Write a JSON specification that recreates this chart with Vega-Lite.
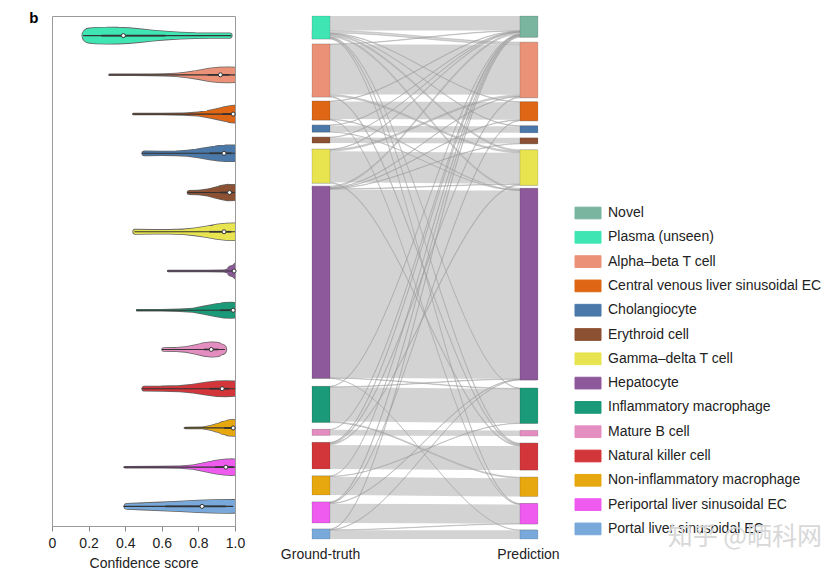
{
  "$schema": "https://vega.github.io/schema/vega-lite/v6.json",
  "padding": {"left": 28, "top": 9, "right": 0, "bottom": 0},
  "background": "white",
  "title": {"text": "知乎 @晒科网", "orient": "bottom", "anchor": "end", "offset": -46, "color": "#d8d8d8", "fontSize": 25, "font": "Noto Sans CJK SC", "fontWeight": "normal"},
  "config": {
    "font": "Liberation Sans",
    "view": {"stroke": "#9a9a9a"},
    "axis": {"labelColor": "#222", "titleColor": "#222", "labelFontSize": 14, "titleFontSize": 14, "titleFontWeight": "normal", "grid": false, "labelOverlap": false},
    "axisX": {"labelOverlap": false, "labelSeparation": 0, "labelFlush": false}
  },
  "datasets": {
    "order": [
      {"cell": "Plasma (unseen)", "rank": -1},
      {"cell": "Novel", "rank": 0},
      {"cell": "Alpha–beta T cell", "rank": 1},
      {"cell": "Central venous liver sinusoidal EC", "rank": 2},
      {"cell": "Cholangiocyte", "rank": 3},
      {"cell": "Erythroid cell", "rank": 4},
      {"cell": "Gamma–delta T cell", "rank": 5},
      {"cell": "Hepatocyte", "rank": 6},
      {"cell": "Inflammatory macrophage", "rank": 7},
      {"cell": "Mature B cell", "rank": 8},
      {"cell": "Natural killer cell", "rank": 9},
      {"cell": "Non-inflammatory macrophage", "rank": 10},
      {"cell": "Periportal liver sinusoidal EC", "rank": 11},
      {"cell": "Portal liver sinusoidal EC", "rank": 12},
      {"cell": "gap1", "rank": 0.5},
      {"cell": "gap2", "rank": 1.5},
      {"cell": "gap3", "rank": 2.5},
      {"cell": "gap4", "rank": 3.5},
      {"cell": "gap5", "rank": 4.5},
      {"cell": "gap6", "rank": 5.5},
      {"cell": "gap7", "rank": 6.5},
      {"cell": "gap8", "rank": 7.5},
      {"cell": "gap9", "rank": 8.5},
      {"cell": "gap10", "rank": 9.5},
      {"cell": "gap11", "rank": 10.5},
      {"cell": "gap12", "rank": 11.5}
    ],
    "links": [
      {"gt": "Plasma (unseen)", "pred": "Novel", "n": 145},
      {"gt": "Plasma (unseen)", "pred": "Alpha–beta T cell", "n": 25},
      {"gt": "Plasma (unseen)", "pred": "Central venous liver sinusoidal EC", "n": 5},
      {"gt": "Plasma (unseen)", "pred": "Cholangiocyte", "n": 5},
      {"gt": "Plasma (unseen)", "pred": "Gamma–delta T cell", "n": 15},
      {"gt": "Plasma (unseen)", "pred": "Hepatocyte", "n": 15},
      {"gt": "Plasma (unseen)", "pred": "Inflammatory macrophage", "n": 5},
      {"gt": "Plasma (unseen)", "pred": "Natural killer cell", "n": 10},
      {"gt": "Plasma (unseen)", "pred": "Periportal liver sinusoidal EC", "n": 5},
      {"gt": "Alpha–beta T cell", "pred": "Alpha–beta T cell", "n": 500},
      {"gt": "Alpha–beta T cell", "pred": "Novel", "n": 5},
      {"gt": "Alpha–beta T cell", "pred": "Gamma–delta T cell", "n": 15},
      {"gt": "Alpha–beta T cell", "pred": "Natural killer cell", "n": 10},
      {"gt": "Central venous liver sinusoidal EC", "pred": "Central venous liver sinusoidal EC", "n": 175},
      {"gt": "Central venous liver sinusoidal EC", "pred": "Novel", "n": 5},
      {"gt": "Central venous liver sinusoidal EC", "pred": "Hepatocyte", "n": 5},
      {"gt": "Central venous liver sinusoidal EC", "pred": "Periportal liver sinusoidal EC", "n": 5},
      {"gt": "Cholangiocyte", "pred": "Cholangiocyte", "n": 65},
      {"gt": "Cholangiocyte", "pred": "Novel", "n": 3},
      {"gt": "Cholangiocyte", "pred": "Hepatocyte", "n": 2},
      {"gt": "Erythroid cell", "pred": "Erythroid cell", "n": 57},
      {"gt": "Erythroid cell", "pred": "Novel", "n": 3},
      {"gt": "Gamma–delta T cell", "pred": "Gamma–delta T cell", "n": 310},
      {"gt": "Gamma–delta T cell", "pred": "Alpha–beta T cell", "n": 15},
      {"gt": "Gamma–delta T cell", "pred": "Novel", "n": 5},
      {"gt": "Gamma–delta T cell", "pred": "Natural killer cell", "n": 10},
      {"gt": "Hepatocyte", "pred": "Hepatocyte", "n": 1880},
      {"gt": "Hepatocyte", "pred": "Novel", "n": 15},
      {"gt": "Hepatocyte", "pred": "Alpha–beta T cell", "n": 5},
      {"gt": "Hepatocyte", "pred": "Central venous liver sinusoidal EC", "n": 5},
      {"gt": "Hepatocyte", "pred": "Gamma–delta T cell", "n": 5},
      {"gt": "Hepatocyte", "pred": "Erythroid cell", "n": 3},
      {"gt": "Hepatocyte", "pred": "Inflammatory macrophage", "n": 5},
      {"gt": "Hepatocyte", "pred": "Portal liver sinusoidal EC", "n": 2},
      {"gt": "Inflammatory macrophage", "pred": "Inflammatory macrophage", "n": 340},
      {"gt": "Inflammatory macrophage", "pred": "Novel", "n": 5},
      {"gt": "Inflammatory macrophage", "pred": "Hepatocyte", "n": 5},
      {"gt": "Inflammatory macrophage", "pred": "Non-inflammatory macrophage", "n": 10},
      {"gt": "Mature B cell", "pred": "Mature B cell", "n": 57},
      {"gt": "Mature B cell", "pred": "Novel", "n": 3},
      {"gt": "Natural killer cell", "pred": "Natural killer cell", "n": 240},
      {"gt": "Natural killer cell", "pred": "Novel", "n": 5},
      {"gt": "Natural killer cell", "pred": "Gamma–delta T cell", "n": 10},
      {"gt": "Natural killer cell", "pred": "Alpha–beta T cell", "n": 10},
      {"gt": "Non-inflammatory macrophage", "pred": "Non-inflammatory macrophage", "n": 183},
      {"gt": "Non-inflammatory macrophage", "pred": "Novel", "n": 4},
      {"gt": "Non-inflammatory macrophage", "pred": "Inflammatory macrophage", "n": 3},
      {"gt": "Periportal liver sinusoidal EC", "pred": "Periportal liver sinusoidal EC", "n": 192},
      {"gt": "Periportal liver sinusoidal EC", "pred": "Novel", "n": 8},
      {"gt": "Periportal liver sinusoidal EC", "pred": "Central venous liver sinusoidal EC", "n": 5},
      {"gt": "Periportal liver sinusoidal EC", "pred": "Hepatocyte", "n": 5},
      {"gt": "Portal liver sinusoidal EC", "pred": "Portal liver sinusoidal EC", "n": 88},
      {"gt": "Portal liver sinusoidal EC", "pred": "Novel", "n": 6},
      {"gt": "Portal liver sinusoidal EC", "pred": "Periportal liver sinusoidal EC", "n": 3},
      {"gt": "Portal liver sinusoidal EC", "pred": "Hepatocyte", "n": 3},
      {"gt": "gap1", "pred": "gap1", "n": 50},
      {"gt": "gap2", "pred": "gap2", "n": 40},
      {"gt": "gap3", "pred": "gap3", "n": 50},
      {"gt": "gap4", "pred": "gap4", "n": 50},
      {"gt": "gap5", "pred": "gap5", "n": 60},
      {"gt": "gap6", "pred": "gap6", "n": 30},
      {"gt": "gap7", "pred": "gap7", "n": 80},
      {"gt": "gap8", "pred": "gap8", "n": 70},
      {"gt": "gap9", "pred": "gap9", "n": 70},
      {"gt": "gap10", "pred": "gap10", "n": 70},
      {"gt": "gap11", "pred": "gap11", "n": 70},
      {"gt": "gap12", "pred": "gap12", "n": 60}
    ],
    "violin": [
      {"cell": "Plasma (unseen)", "s": 0.205, "w": 0.85},
      {"cell": "Plasma (unseen)", "s": 0.24, "w": 0.93},
      {"cell": "Plasma (unseen)", "s": 0.3, "w": 0.95},
      {"cell": "Plasma (unseen)", "s": 0.36, "w": 0.94},
      {"cell": "Plasma (unseen)", "s": 0.42, "w": 0.88},
      {"cell": "Plasma (unseen)", "s": 0.48, "w": 0.76},
      {"cell": "Plasma (unseen)", "s": 0.55, "w": 0.6},
      {"cell": "Plasma (unseen)", "s": 0.62, "w": 0.47},
      {"cell": "Plasma (unseen)", "s": 0.7, "w": 0.37},
      {"cell": "Plasma (unseen)", "s": 0.78, "w": 0.31},
      {"cell": "Plasma (unseen)", "s": 0.86, "w": 0.28},
      {"cell": "Plasma (unseen)", "s": 0.94, "w": 0.27},
      {"cell": "Plasma (unseen)", "s": 0.97, "w": 0.27},
      {"cell": "Alpha–beta T cell", "s": 0.315, "w": 0.05},
      {"cell": "Alpha–beta T cell", "s": 0.45, "w": 0.05},
      {"cell": "Alpha–beta T cell", "s": 0.55, "w": 0.06},
      {"cell": "Alpha–beta T cell", "s": 0.62, "w": 0.09},
      {"cell": "Alpha–beta T cell", "s": 0.68, "w": 0.16},
      {"cell": "Alpha–beta T cell", "s": 0.74, "w": 0.3},
      {"cell": "Alpha–beta T cell", "s": 0.8, "w": 0.5},
      {"cell": "Alpha–beta T cell", "s": 0.86, "w": 0.74},
      {"cell": "Alpha–beta T cell", "s": 0.91, "w": 0.87},
      {"cell": "Alpha–beta T cell", "s": 0.96, "w": 0.9},
      {"cell": "Alpha–beta T cell", "s": 1.0, "w": 0.86},
      {"cell": "Central venous liver sinusoidal EC", "s": 0.445, "w": 0.05},
      {"cell": "Central venous liver sinusoidal EC", "s": 0.6, "w": 0.05},
      {"cell": "Central venous liver sinusoidal EC", "s": 0.72, "w": 0.09},
      {"cell": "Central venous liver sinusoidal EC", "s": 0.8, "w": 0.2},
      {"cell": "Central venous liver sinusoidal EC", "s": 0.86, "w": 0.42},
      {"cell": "Central venous liver sinusoidal EC", "s": 0.91, "w": 0.65},
      {"cell": "Central venous liver sinusoidal EC", "s": 0.95, "w": 0.85},
      {"cell": "Central venous liver sinusoidal EC", "s": 0.98, "w": 0.98},
      {"cell": "Central venous liver sinusoidal EC", "s": 1.0, "w": 1.0},
      {"cell": "Cholangiocyte", "s": 0.505, "w": 0.25},
      {"cell": "Cholangiocyte", "s": 0.6, "w": 0.22},
      {"cell": "Cholangiocyte", "s": 0.68, "w": 0.24},
      {"cell": "Cholangiocyte", "s": 0.74, "w": 0.32},
      {"cell": "Cholangiocyte", "s": 0.8, "w": 0.5},
      {"cell": "Cholangiocyte", "s": 0.86, "w": 0.72},
      {"cell": "Cholangiocyte", "s": 0.91, "w": 0.88},
      {"cell": "Cholangiocyte", "s": 0.95, "w": 0.94},
      {"cell": "Cholangiocyte", "s": 1.0, "w": 0.94},
      {"cell": "Erythroid cell", "s": 0.75, "w": 0.2},
      {"cell": "Erythroid cell", "s": 0.8, "w": 0.22},
      {"cell": "Erythroid cell", "s": 0.85, "w": 0.38},
      {"cell": "Erythroid cell", "s": 0.89, "w": 0.6},
      {"cell": "Erythroid cell", "s": 0.93, "w": 0.82},
      {"cell": "Erythroid cell", "s": 0.96, "w": 0.93},
      {"cell": "Erythroid cell", "s": 1.0, "w": 0.9},
      {"cell": "Gamma–delta T cell", "s": 0.455, "w": 0.25},
      {"cell": "Gamma–delta T cell", "s": 0.55, "w": 0.22},
      {"cell": "Gamma–delta T cell", "s": 0.64, "w": 0.22},
      {"cell": "Gamma–delta T cell", "s": 0.72, "w": 0.28},
      {"cell": "Gamma–delta T cell", "s": 0.78, "w": 0.42},
      {"cell": "Gamma–delta T cell", "s": 0.84, "w": 0.62},
      {"cell": "Gamma–delta T cell", "s": 0.9, "w": 0.85},
      {"cell": "Gamma–delta T cell", "s": 0.95, "w": 0.97},
      {"cell": "Gamma–delta T cell", "s": 1.0, "w": 1.0},
      {"cell": "Hepatocyte", "s": 0.635, "w": 0.05},
      {"cell": "Hepatocyte", "s": 0.85, "w": 0.05},
      {"cell": "Hepatocyte", "s": 0.94, "w": 0.08},
      {"cell": "Hepatocyte", "s": 0.97, "w": 0.25},
      {"cell": "Hepatocyte", "s": 0.985, "w": 0.6},
      {"cell": "Hepatocyte", "s": 1.0, "w": 0.92},
      {"cell": "Inflammatory macrophage", "s": 0.465, "w": 0.05},
      {"cell": "Inflammatory macrophage", "s": 0.6, "w": 0.06},
      {"cell": "Inflammatory macrophage", "s": 0.7, "w": 0.1},
      {"cell": "Inflammatory macrophage", "s": 0.77, "w": 0.2},
      {"cell": "Inflammatory macrophage", "s": 0.83, "w": 0.45},
      {"cell": "Inflammatory macrophage", "s": 0.89, "w": 0.7},
      {"cell": "Inflammatory macrophage", "s": 0.94, "w": 0.87},
      {"cell": "Inflammatory macrophage", "s": 0.98, "w": 0.9},
      {"cell": "Inflammatory macrophage", "s": 1.0, "w": 0.88},
      {"cell": "Mature B cell", "s": 0.61, "w": 0.18},
      {"cell": "Mature B cell", "s": 0.68, "w": 0.2},
      {"cell": "Mature B cell", "s": 0.73, "w": 0.28},
      {"cell": "Mature B cell", "s": 0.78, "w": 0.5},
      {"cell": "Mature B cell", "s": 0.83, "w": 0.75},
      {"cell": "Mature B cell", "s": 0.87, "w": 0.85},
      {"cell": "Mature B cell", "s": 0.9, "w": 0.82},
      {"cell": "Mature B cell", "s": 0.925, "w": 0.6},
      {"cell": "Natural killer cell", "s": 0.505, "w": 0.25},
      {"cell": "Natural killer cell", "s": 0.6, "w": 0.27},
      {"cell": "Natural killer cell", "s": 0.7, "w": 0.33},
      {"cell": "Natural killer cell", "s": 0.77, "w": 0.48},
      {"cell": "Natural killer cell", "s": 0.84, "w": 0.72},
      {"cell": "Natural killer cell", "s": 0.9, "w": 0.88},
      {"cell": "Natural killer cell", "s": 0.95, "w": 0.9},
      {"cell": "Natural killer cell", "s": 1.0, "w": 0.86},
      {"cell": "Non-inflammatory macrophage", "s": 0.73, "w": 0.05},
      {"cell": "Non-inflammatory macrophage", "s": 0.82, "w": 0.07},
      {"cell": "Non-inflammatory macrophage", "s": 0.86, "w": 0.22},
      {"cell": "Non-inflammatory macrophage", "s": 0.9, "w": 0.45},
      {"cell": "Non-inflammatory macrophage", "s": 0.94, "w": 0.75},
      {"cell": "Non-inflammatory macrophage", "s": 0.97, "w": 0.92},
      {"cell": "Non-inflammatory macrophage", "s": 1.0, "w": 0.95},
      {"cell": "Periportal liver sinusoidal EC", "s": 0.4, "w": 0.05},
      {"cell": "Periportal liver sinusoidal EC", "s": 0.6, "w": 0.06},
      {"cell": "Periportal liver sinusoidal EC", "s": 0.7, "w": 0.1},
      {"cell": "Periportal liver sinusoidal EC", "s": 0.77, "w": 0.22},
      {"cell": "Periportal liver sinusoidal EC", "s": 0.83, "w": 0.48},
      {"cell": "Periportal liver sinusoidal EC", "s": 0.89, "w": 0.75},
      {"cell": "Periportal liver sinusoidal EC", "s": 0.94, "w": 0.9},
      {"cell": "Periportal liver sinusoidal EC", "s": 0.98, "w": 0.94},
      {"cell": "Periportal liver sinusoidal EC", "s": 1.0, "w": 0.92},
      {"cell": "Portal liver sinusoidal EC", "s": 0.41, "w": 0.3},
      {"cell": "Portal liver sinusoidal EC", "s": 0.5, "w": 0.38},
      {"cell": "Portal liver sinusoidal EC", "s": 0.6, "w": 0.47},
      {"cell": "Portal liver sinusoidal EC", "s": 0.7, "w": 0.58},
      {"cell": "Portal liver sinusoidal EC", "s": 0.8, "w": 0.68},
      {"cell": "Portal liver sinusoidal EC", "s": 0.88, "w": 0.75},
      {"cell": "Portal liver sinusoidal EC", "s": 0.95, "w": 0.78},
      {"cell": "Portal liver sinusoidal EC", "s": 1.0, "w": 0.76}
    ],
    "box": [
      {"cell": "Plasma (unseen)", "lo": 0.17, "q1": 0.27, "med": 0.39, "q3": 0.62, "hi": 0.98},
      {"cell": "Alpha–beta T cell", "lo": 0.31, "q1": 0.85, "med": 0.92, "q3": 0.97, "hi": 1.0},
      {"cell": "Central venous liver sinusoidal EC", "lo": 0.44, "q1": 0.93, "med": 0.99, "q3": 1.0, "hi": 1.0},
      {"cell": "Cholangiocyte", "lo": 0.49, "q1": 0.86, "med": 0.94, "q3": 0.98, "hi": 1.0},
      {"cell": "Erythroid cell", "lo": 0.74, "q1": 0.92, "med": 0.97, "q3": 0.99, "hi": 1.0},
      {"cell": "Gamma–delta T cell", "lo": 0.45, "q1": 0.86, "med": 0.94, "q3": 0.98, "hi": 1.0},
      {"cell": "Hepatocyte", "lo": 0.63, "q1": 0.99, "med": 0.995, "q3": 1.0, "hi": 1.0},
      {"cell": "Inflammatory macrophage", "lo": 0.46, "q1": 0.92, "med": 0.99, "q3": 1.0, "hi": 1.0},
      {"cell": "Mature B cell", "lo": 0.6, "q1": 0.83, "med": 0.87, "q3": 0.91, "hi": 0.945},
      {"cell": "Natural killer cell", "lo": 0.49, "q1": 0.86, "med": 0.93, "q3": 0.97, "hi": 1.0},
      {"cell": "Non-inflammatory macrophage", "lo": 0.72, "q1": 0.94, "med": 0.99, "q3": 1.0, "hi": 1.0},
      {"cell": "Periportal liver sinusoidal EC", "lo": 0.39, "q1": 0.89, "med": 0.95, "q3": 0.99, "hi": 1.0},
      {"cell": "Portal liver sinusoidal EC", "lo": 0.39, "q1": 0.62, "med": 0.82, "q3": 0.95, "hi": 0.99}
    ]
  },
  "bounds": "flush",
  "spacing": 77,
  "hconcat": [
    {
      "width": 183,
      "height": 510,
      "encoding": {
        "x": {"type": "quantitative", "scale": {"domain": [0, 1], "nice": false, "zero": false},
              "axis": {"values": [0, 0.2, 0.4, 0.6, 0.8, 1], "labelOverlap": false, "labelSeparation": 0, "labelBound": false, "labelFlush": false, "labelExpr": "datum.value == 0 ? '0' : format(datum.value, '.1f')", "title": "Confidence score", "tickSize": 5, "tickColor": "#888", "domainColor": "#9a9a9a", "labelPadding": 5, "titlePadding": 6}},
        "y": {"field": "cell", "type": "nominal",
              "scale": {"type": "point", "padding": 0.5, "domain": ["Plasma (unseen)", "Alpha–beta T cell", "Central venous liver sinusoidal EC", "Cholangiocyte", "Erythroid cell", "Gamma–delta T cell", "Hepatocyte", "Inflammatory macrophage", "Mature B cell", "Natural killer cell", "Non-inflammatory macrophage", "Periportal liver sinusoidal EC", "Portal liver sinusoidal EC"]},
              "axis": {"title": "b", "titleAngle": 0, "titleAlign": "right", "titleBaseline": "top", "titleX": -14, "titleY": -6, "titleFontWeight": "bold", "titleFontSize": 15, "titleColor": "#000", "labels": false, "ticks": false, "domain": false}}
      },
      "layer": [
        {
          "data": {"name": "violin"},
          "mark": {"type": "trail", "color": "#4a4a4a", "opacity": 0.85, "clip": true},
          "encoding": {
            "x": {"field": "s"},
            "size": {"field": "w", "type": "quantitative", "scale": {"domain": [0, 1], "range": [1.6, 18.6]}, "legend": null},
            "detail": {"field": "cell"},
            "order": {"field": "s", "type": "quantitative"}
          }
        },
        {
          "data": {"name": "violin"},
          "mark": {"type": "trail", "clip": true},
          "encoding": {
            "x": {"field": "s"},
            "size": {"field": "w", "type": "quantitative", "scale": {"domain": [0, 1], "range": [0, 17]}, "legend": null},
            "color": {"field": "cell", "type": "nominal",
                      "scale": {"domain": ["Novel", "Plasma (unseen)", "Alpha–beta T cell", "Central venous liver sinusoidal EC", "Cholangiocyte", "Erythroid cell", "Gamma–delta T cell", "Hepatocyte", "Inflammatory macrophage", "Mature B cell", "Natural killer cell", "Non-inflammatory macrophage", "Periportal liver sinusoidal EC", "Portal liver sinusoidal EC"],
                                "range": ["#79b59f", "#3fe6b3", "#ea9177", "#de6614", "#4a79a9", "#8c5132", "#e7e44f", "#8e599b", "#1a9a78", "#e48dc0", "#d2363a", "#e6a70f", "#ee5bee", "#79a9db"]},
                      "legend": {"title": null, "orient": "none", "legendX": 529, "legendY": 190, "symbolType": "M-2,-0.9H2V0.9H-2Z", "symbolSize": 169, "symbolStrokeColor": "rgba(0,0,0,0.3)", "symbolStrokeWidth": 1, "labelFontSize": 14, "labelOffset": 13, "rowPadding": 8.3, "labelColor": "#222", "labelLimit": 300}},
            "order": {"field": "s", "type": "quantitative"}
          }
        },
        {
          "data": {"name": "box"},
          "mark": {"type": "rule", "color": "#333", "strokeWidth": 1.1},
          "encoding": {
            "x": {"field": "lo"},
            "x2": {"field": "hi"}
          }
        },
        {
          "data": {"name": "box"},
          "mark": {"type": "rule", "color": "#333", "strokeWidth": 1.7},
          "encoding": {
            "x": {"field": "q1"},
            "x2": {"field": "q3"}
          }
        },
        {
          "data": {"name": "box"},
          "mark": {"type": "point", "filled": true, "fill": "white", "stroke": "#333", "strokeWidth": 1, "size": 16, "opacity": 1},
          "encoding": {
            "x": {"field": "med"}
          }
        }
      ],
      "resolve": {"scale": {"size": "independent"}}
    },
    {
      "width": 225,
      "height": 523,
      "view": {"stroke": null},
      "data": {"name": "links"},
      "transform": [
        {"lookup": "gt", "from": {"data": {"name": "order"}, "key": "cell", "fields": ["rank"]}, "as": ["gr"]},
        {"lookup": "pred", "from": {"data": {"name": "order"}, "key": "cell", "fields": ["rank"]}, "as": ["pr"]},
        {"fold": ["gr", "pr"], "as": ["side", "r"]},
        {"stack": "n", "groupby": ["side"], "sort": [{"field": "r", "order": "ascending"}, {"field": "pr", "order": "ascending"}, {"field": "gr", "order": "ascending"}], "as": ["y0", "y1"]}
      ],
      "layer": [
        {
          "transform": [
            {"filter": "datum.gr % 1 == 0"},
            {"fold": ["gr", "pr"], "as": ["end", "v"]}
          ],
          "mark": {"type": "area", "interpolate": "monotone", "fill": "#a8a8a8", "fillOpacity": 0.5, "stroke": "#9a9a9a", "strokeOpacity": 0.55},
          "encoding": {
            "x": {"field": "side", "type": "nominal",
                  "scale": {"type": "band", "domain": ["gr", "pr"], "paddingInner": 0.918, "paddingOuter": 0},
                  "axis": {"title": null, "labelExpr": "datum.value == 'gr' ? 'Ground-truth' : 'Prediction'", "domain": false, "ticks": false, "labelPadding": 8, "labelFontSize": 14, "labelAngle": 0}},
            "xOffset": {"field": "end", "type": "nominal", "scale": {"paddingInner": 1, "paddingOuter": 0}},
            "y": {"field": "y0", "type": "quantitative", "scale": {"reverse": true, "nice": false, "zero": true}, "axis": null},
            "y2": {"field": "y1"},
            "strokeWidth": {"condition": {"test": "datum.n < 30", "value": 0.7}, "value": 0},
            "detail": [{"field": "gt"}, {"field": "pred"}],
            "order": [{"field": "side", "type": "ordinal"}, {"field": "end", "type": "ordinal"}]
          }
        },
        {
          "transform": [
            {"filter": "datum.r % 1 == 0"},
            {"aggregate": [{"op": "min", "field": "y0", "as": "top"}, {"op": "max", "field": "y1", "as": "bottom"}], "groupby": ["side", "r"]},
            {"lookup": "r", "from": {"data": {"name": "order"}, "key": "rank", "fields": ["cell"]}}
          ],
          "mark": {"type": "bar", "stroke": "#000", "strokeOpacity": 0.15, "strokeWidth": 0.8},
          "encoding": {
            "x": {"field": "side", "type": "nominal"},
            "y": {"field": "top", "type": "quantitative"},
            "y2": {"field": "bottom"},
            "color": {"field": "cell", "type": "nominal",
                      "scale": {"domain": ["Novel", "Plasma (unseen)", "Alpha–beta T cell", "Central venous liver sinusoidal EC", "Cholangiocyte", "Erythroid cell", "Gamma–delta T cell", "Hepatocyte", "Inflammatory macrophage", "Mature B cell", "Natural killer cell", "Non-inflammatory macrophage", "Periportal liver sinusoidal EC", "Portal liver sinusoidal EC"],
                                "range": ["#79b59f", "#3fe6b3", "#ea9177", "#de6614", "#4a79a9", "#8c5132", "#e7e44f", "#8e599b", "#1a9a78", "#e48dc0", "#d2363a", "#e6a70f", "#ee5bee", "#79a9db"]},
                      "legend": {"title": null, "orient": "none", "legendX": 529, "legendY": 190, "symbolType": "M-2,-0.9H2V0.9H-2Z", "symbolSize": 169, "symbolStrokeColor": "rgba(0,0,0,0.3)", "symbolStrokeWidth": 1, "labelFontSize": 14, "labelOffset": 13, "rowPadding": 8.3, "labelColor": "#222", "labelLimit": 300}}
          }
        }
      ]
    }
  ]
}
